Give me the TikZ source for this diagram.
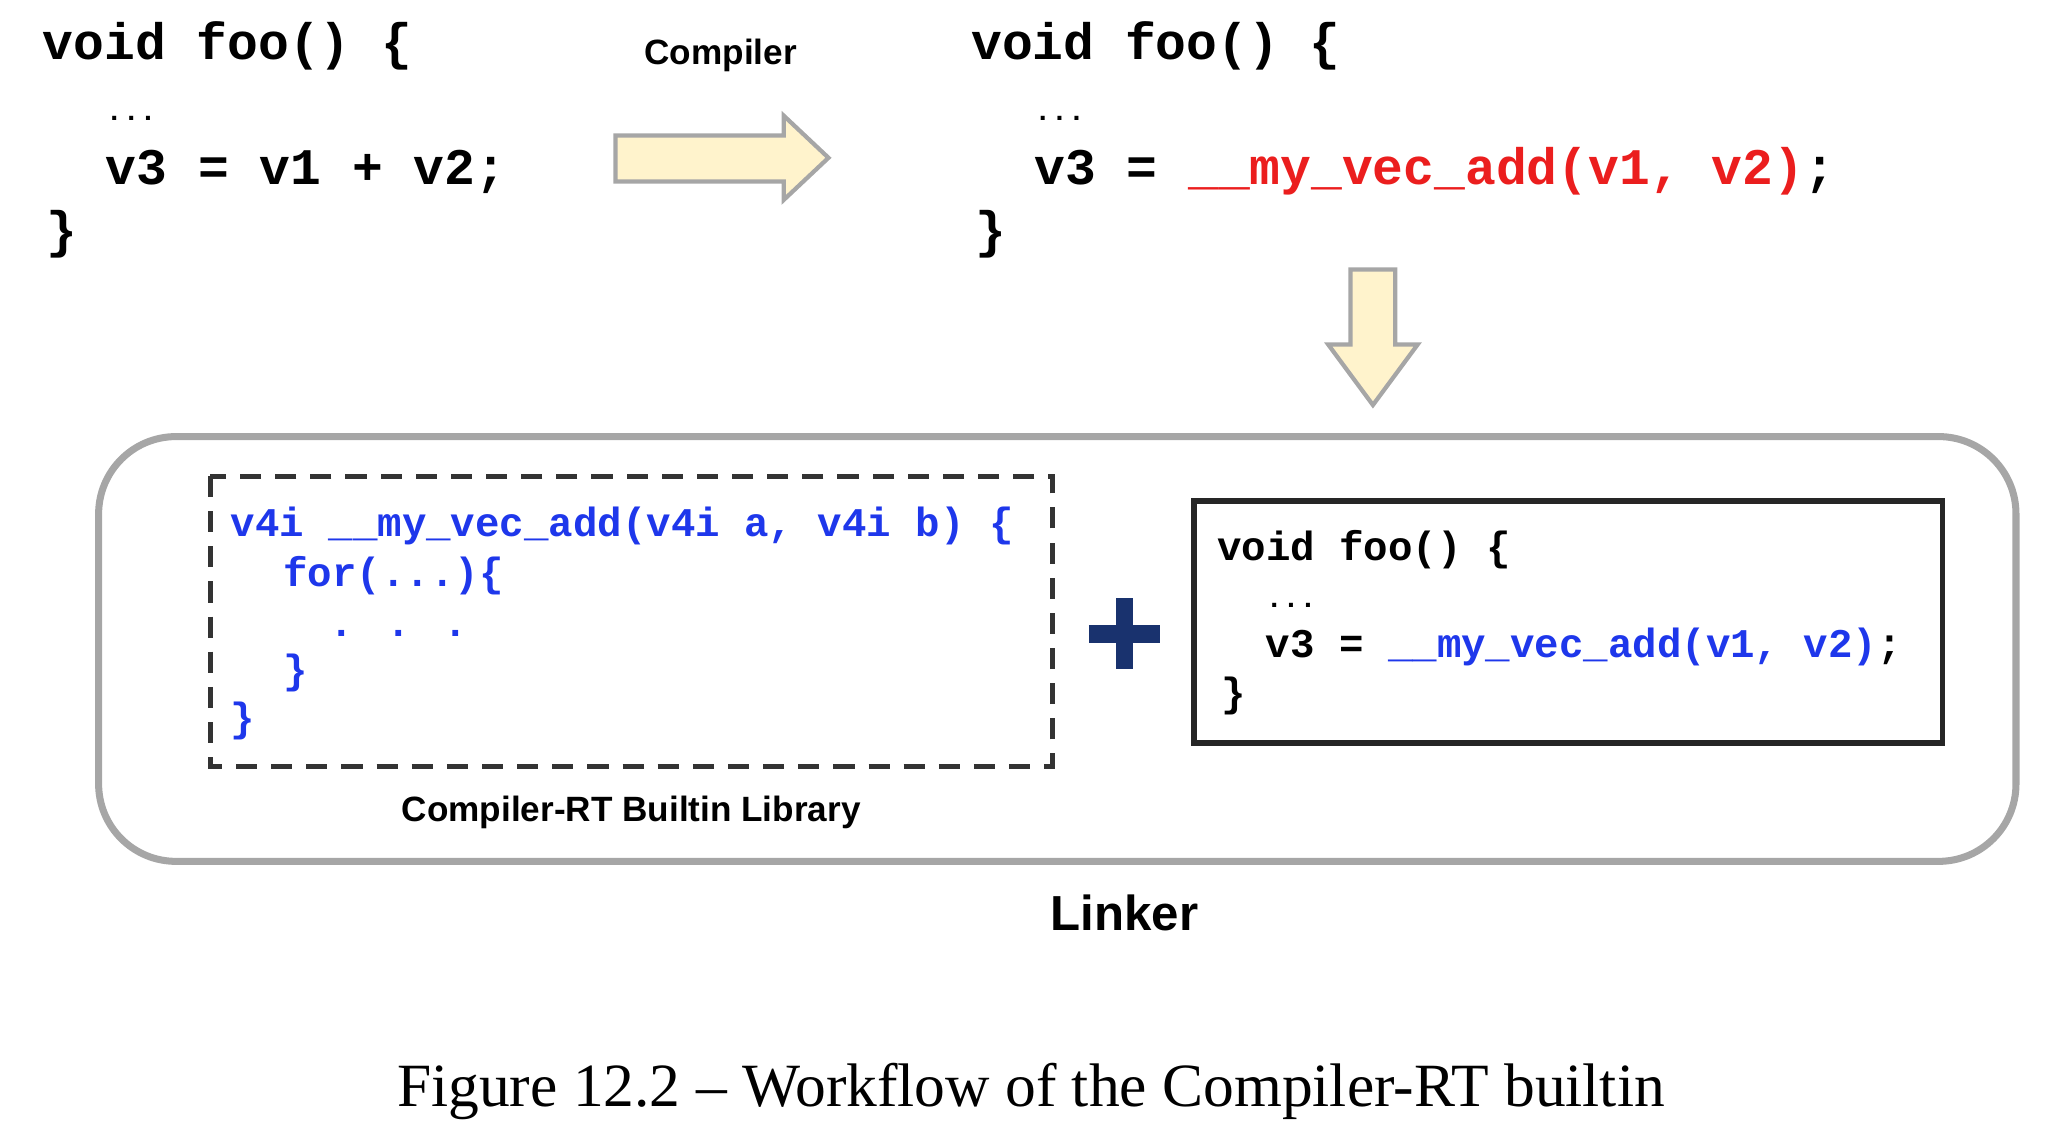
\documentclass[tikz,border=0pt]{standalone}
\usepackage{fontspec}
\setmainfont{Liberation Serif}
\newfontfamily\cmono{Liberation Mono}
\newfontfamily\csans{Liberation Sans}
\definecolor{cred}{RGB}{235,30,30}
\definecolor{cblue}{RGB}{30,55,235}
\definecolor{afill}{RGB}{255,243,204}
\definecolor{navy}{RGB}{25,50,110}
\begin{document}
\begin{tikzpicture}[x=0.01315cm,y=-0.01315cm,
  big/.style={anchor=base west,inner sep=0,font=\cmono\bfseries\fontsize{14.6}{16}\selectfont},
  sm/.style={anchor=base west,inner sep=0,font=\cmono\bfseries\fontsize{11.6}{13}\selectfont},
  dots/.style={anchor=base west,inner sep=0,font=\cmono\bfseries\fontsize{8}{9}\selectfont},
  lab/.style={inner sep=0,font=\csans\bfseries\fontsize{10}{12}\selectfont},
  arr/.style={draw=gray!70,fill=afill,line width=1.2pt,line join=miter}]
\useasboundingbox (0,0) rectangle (1568,868);
% top left
\node[big] (l1) at (32,45) {void foo() \{};
\node[dots] (l2) at (80,92) {...};
\node[big] (l3) at (80,140) {v3 = v1 + v2;};
\node[big] (l4) at (35,188) {\}};
% compiler arrow
\node[lab] (comp) at (548,42) {Compiler};
\draw[arr] (468,103) -- (596,103) -- (596,88) -- (630,120) -- (596,152) -- (596,138) -- (468,138) -- cycle;
% top right
\node[big] (r1) at (738,45) {void foo() \{};
\node[dots] (r2) at (786,92) {...};
\node[big] (r3) at (786,140) {v3 = \textcolor{cred}{\_\_my\_vec\_add(v1, v2)};};
\node[big] (r4) at (741,188) {\}};
% down arrow
\draw[arr] (1027,205) -- (1061,205) -- (1061,262) -- (1078,262) -- (1044,308) -- (1010,262) -- (1027,262) -- cycle;
% linker box
\draw[gray!70,line width=2pt,rounded corners=22] (75,332) rectangle (1533,655);
\node[inner sep=0,font=\csans\bfseries\fontsize{14}{16}\selectfont] (link) at (855,694) {Linker};
% dashed library box
\draw[dashed,line width=1.4pt,dash pattern=on 6pt off 4pt,black!80] (160,362) rectangle (800,583);
\node[sm,text=cblue] (d1) at (175,408) {v4i \_\_my\_vec\_add(v4i a, v4i b) \{};
\node[sm,text=cblue] (d2) at (215,446) {for(...)\{};
\node[sm,text=cblue] (d3) at (250,484) {. . .};
\node[sm,text=cblue] (d4) at (215,520) {\}};
\node[sm,text=cblue] (d5) at (175,556) {\}};
\node[lab] (libl) at (480,618) {Compiler-RT Builtin Library};
% plus
\draw[navy,line width=5pt] (828,482) -- (882,482) (855,455) -- (855,509);
% right box
\draw[line width=1.6pt,black!85] (908,381) rectangle (1477,565);
\node[sm] (b1) at (925,426) {void foo() \{};
\node[dots] (b2) at (962,462) {...};
\node[sm] (b3) at (962,500) {v3 = \textcolor{cblue}{\_\_my\_vec\_add(v1, v2)};};
\node[sm] (b4) at (928,537) {\}};
% caption
\node[inner sep=0,font=\fontsize{17.5}{20}\selectfont] (cap) at (784,830) {Figure 12.2 – Workflow of the Compiler-RT builtin};
\end{tikzpicture}
\end{document}
